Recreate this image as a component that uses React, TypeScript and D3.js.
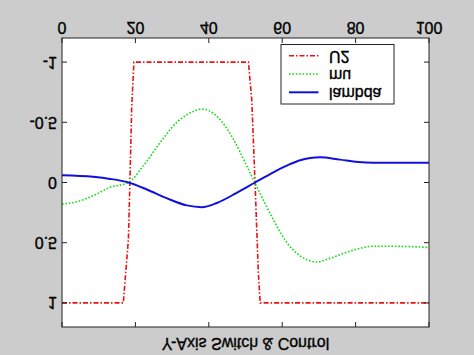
import React from "react";
import * as d3 from "d3";

const W = 474;
const H = 355;

const xTicks = [0, 20, 40, 60, 80, 100];
const yTicks = [-1, -0.5, 0, 0.5, 1];
const titleText = "Y-Axis Switch & Control";

const seriesNames = ["U2", "mu", "lambda"];

const u2X = [0, 16.7, 18.1, 18.5, 19.0, 19.6, 50.8, 51.7, 52.6, 53.5, 54.0, 100];
const u2Y = [1, 1, 0.47, 0, -0.63, -1, -1, -0.69, 0, 0.75, 1, 1];

const muX = [0, 4, 8.5, 13.1, 18.1, 22.2, 26.7, 31.3, 35.8, 38.1, 42.2, 46.7, 50.3, 53, 57.6, 59.4, 62.1, 66.7, 69.4, 73, 78.5, 84.8, 91.2, 100];
const muY = [0.18, 0.16, 0.11, 0.04, 0, -0.14, -0.33, -0.5, -0.59, -0.61, -0.55, -0.36, -0.14, 0.03, 0.31, 0.41, 0.53, 0.64, 0.66, 0.63, 0.57, 0.53, 0.53, 0.54];

const lamX = [0, 8.5, 13.1, 18.1, 23.1, 28.5, 34, 38.1, 42.2, 47.6, 52.6, 57.6, 62.1, 64.9, 67.6, 70.3, 75.7, 80.7, 84.8, 100];
const lamY = [-0.06, -0.047, -0.03, 0, 0.058, 0.13, 0.19, 0.205, 0.17, 0.086, 0, -0.085, -0.152, -0.185, -0.203, -0.21, -0.19, -0.17, -0.164, -0.164];

const L = 62, R = 429, T = 38, B = 327;
const FONT = "'Liberation Sans', Arial, Helvetica, sans-serif";

function FText(props: { x: number; y: number; anchor?: string; size?: number; children: React.ReactNode }) {
  const { x, y, anchor = "middle", size = 16, children } = props;
  return (
    <text
      transform={`translate(${x},${y}) scale(1,-1)`}
      textAnchor={anchor}
      fontFamily={FONT}
      fontSize={size}
      fill="#000"
      stroke="#000"
      strokeWidth={0.35}
    >
      {children}
    </text>
  );
}

export default function App() {
  const x = d3.scaleLinear().domain([0, 100]).range([L, R]);
  const y = d3.scaleLinear().domain([-1.2, 1.2]).range([T, B]);

  const mk = (xs: number[], ys: number[], curve: d3.CurveFactory) =>
    d3
      .line<number>()
      .x((_, i) => x(xs[i]))
      .y((v) => y(v))
      .curve(curve)(ys) || "";

  const styles = [
    { color: "#ee1111", dash: "5,2,1.5,2", width: 1.6 },
    { color: "#11dd11", dash: "1.6,1.8", width: 1.6 },
    { color: "#1010dd", dash: "", width: 2 },
  ];
  const paths = [
    mk(u2X, u2Y, d3.curveLinear),
    mk(muX, muY, d3.curveMonotoneX),
    mk(lamX, lamY, d3.curveMonotoneX),
  ];

  const legY = [55.7, 74, 92.3];

  return (
    <svg width={W} height={H} style={{ position: "absolute", left: 0, top: 0 }}>
      <rect x={0} y={0} width={W} height={H} fill="#cccccc" />
      <rect x={L} y={T} width={R - L} height={B - T} fill="#ffffff" />
      <defs>
        <clipPath id="plotclip">
          <rect x={L} y={T} width={R - L} height={B - T} />
        </clipPath>
      </defs>
      <g clipPath="url(#plotclip)">
        {paths.map((d, i) => (
          <path
            key={i}
            d={d}
            fill="none"
            stroke={styles[i].color}
            strokeWidth={styles[i].width}
            strokeDasharray={styles[i].dash || undefined}
          />
        ))}
      </g>
      <rect x={L} y={T} width={R - L} height={B - T} fill="none" stroke="#222" strokeWidth={1} />
      {xTicks.map((t) => (
        <g key={"x" + t}>
          <line x1={x(t)} x2={x(t)} y1={T} y2={T + 5} stroke="#222" />
          <line x1={x(t)} x2={x(t)} y1={B} y2={B - 5} stroke="#222" />
          <FText x={x(t)} y={21.7}>{String(t)}</FText>
        </g>
      ))}
      {yTicks.map((t) => (
        <g key={"y" + t}>
          <line x1={L} x2={L + 5} y1={y(t)} y2={y(t)} stroke="#222" />
          <line x1={R} x2={R - 5} y1={y(t)} y2={y(t)} stroke="#222" />
          <FText x={57} y={y(t) - 5.5} anchor="end">{String(t)}</FText>
        </g>
      ))}
      <FText x={(L + R) / 2} y={338}>{titleText}</FText>
      <rect x={281} y={44.5} width={113} height={59.5} fill="#ffffff" stroke="#222" strokeWidth={1} />
      {seriesNames.map((n, i) => (
        <g key={n}>
          <line
            x1={289}
            x2={318.5}
            y1={legY[i]}
            y2={legY[i]}
            stroke={styles[i].color}
            strokeWidth={styles[i].width}
            strokeDasharray={styles[i].dash || undefined}
          />
          <FText x={329} y={legY[i] - 4.3} anchor="start">{n}</FText>
        </g>
      ))}
    </svg>
  );
}
